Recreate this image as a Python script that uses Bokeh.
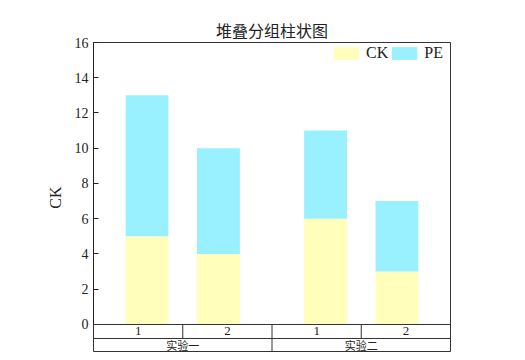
from bokeh.plotting import figure
from bokeh.models import ColumnDataSource, Range1d, FixedTicker, Span, Legend
from bokeh.core.properties import value
from bokeh.embed import file_html
from bokeh.resources import INLINE

groups = ["实验一", "实验二"]
subs = ["1", "2"]
ck = [5, 4, 6, 3]
pe = [8, 6, 5, 4]
yticks = [0, 2, 4, 6, 8, 10, 12, 14, 16]
colors = ["#FFFFBB", "#99F0FF"]

# positions derived from indices
bar_x = []
cell_x = []
cell_lab = []
for g in range(len(groups)):
    for j in range(len(subs)):
        bar_x.append(2 * g + 1 + (j - 0.5) * 0.8)
        cell_x.append(2 * g + j + 0.5)
        cell_lab.append(subs[j])
group_x = [2 * g + 1 for g in range(len(groups))]

src = ColumnDataSource(dict(x=bar_x, CK=ck, PE=pe))

ymin = -1.589
row1 = -0.794
p = figure(width=509, height=352, output_backend="svg", toolbar_location=None,
           x_range=Range1d(0, 4), y_range=Range1d(ymin, 16),
           x_axis_location=None, min_border_left=93, min_border_right=59,
           min_border_top=42, min_border_bottom=0,
           title="堆叠分组柱状图")
p.title.align = "center"
p.title.text_font = "Noto Sans CJK SC"
p.title.text_font_size = "16px"
p.title.text_font_style = "normal"
p.title.text_color = "#222222"
p.title.standoff = 1
p.outline_line_color = "#333333"
p.outline_line_width = 1
p.grid.visible = False
p.background_fill_color = "white"

r = p.vbar_stack(["CK", "PE"], x="x", width=0.48, color=colors, source=src,
                 line_color=None)

ax = p.yaxis[0]
ax.bounds = (0, 16)
ax.ticker = FixedTicker(ticks=yticks)
ax.major_tick_in = 5
ax.major_tick_out = 0
ax.minor_tick_line_color = None
ax.axis_line_color = "#222222"
ax.major_tick_line_color = "#222222"
ax.major_label_text_font = "Liberation Serif"
ax.major_label_text_font_size = "14px"
ax.major_label_text_color = "#222222"
ax.major_label_standoff = 5
ax.axis_label = "CK"
ax.axis_label_text_font = "Liberation Serif"
ax.axis_label_text_font_size = "16px"
ax.axis_label_text_font_style = "normal"
ax.axis_label_text_color = "#222222"
ax.axis_label_standoff = 8

# table lines
p.add_layout(Span(location=0, dimension="width", line_color="#333333", line_width=1))
p.add_layout(Span(location=row1, dimension="width", line_color="#333333", line_width=1))
sep = [1, 3]
p.segment(x0=sep, x1=sep, y0=[0] * 2, y1=[row1] * 2, line_color="#333333", line_width=1)
p.segment(x0=[2], x1=[2], y0=[0], y1=[ymin], line_color="#333333", line_width=1)
p.text(x=cell_x, y=[row1 / 2] * 4, text=cell_lab, text_align="center",
       text_baseline="middle", text_font=value("Liberation Serif"),
       text_font_size="13px", text_color="#222222")
p.text(x=group_x, y=[(row1 + ymin) / 2] * 2, text=groups, text_align="center",
       text_baseline="middle", text_font=value("Noto Sans CJK SC"),
       text_font_size="11px", text_color="#222222")

legend = Legend(items=[("CK", [r[0]]), ("PE", [r[1]])], location=(237, 290),
                orientation="horizontal", glyph_width=32, glyph_height=16,
                label_standoff=4, spacing=0, padding=0, margin=0,
                border_line_color=None, background_fill_alpha=0,
                label_text_font="Liberation Serif", label_text_font_size="16px",
                label_text_color="#222222")
p.add_layout(legend)

open("out.html", "w").write(file_html(p, INLINE))
